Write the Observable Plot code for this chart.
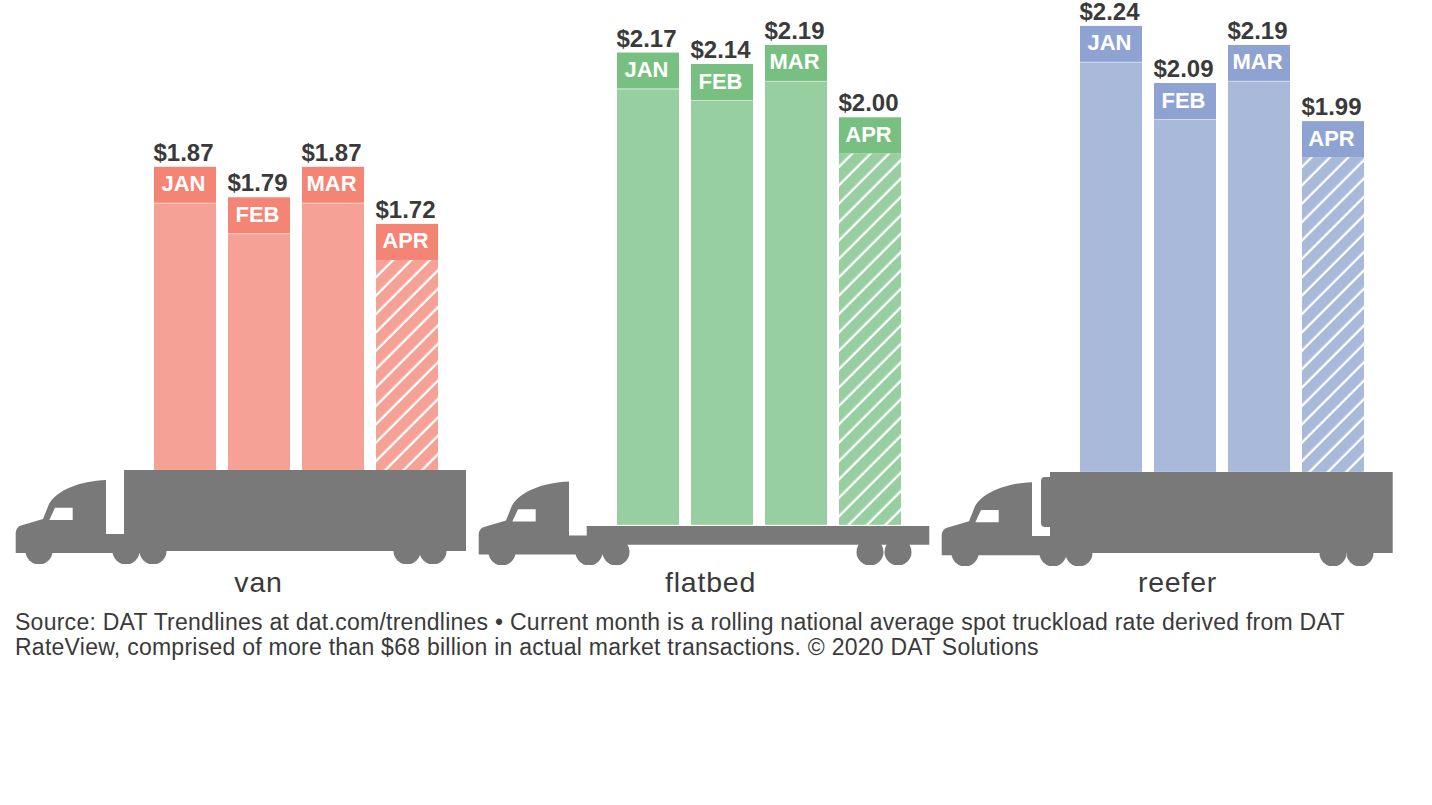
<!DOCTYPE html>
<html><head><meta charset="utf-8">
<script src="https://cdn.jsdelivr.net/npm/d3@7"></script>
<script src="https://cdn.jsdelivr.net/npm/@observablehq/plot@0.6"></script>
<style>
html,body{margin:0;background:#fff}
#cap{position:absolute;left:15px;top:610px;width:1400px;font:23px/25px "Liberation Sans",Arial,sans-serif;letter-spacing:.26px;color:#3a3a3a}
svg text{font-family:"Liberation Sans",Arial,sans-serif}
.catlabel text{letter-spacing:.8px}
</style></head><body>
<div id="chart"></div>
<div id="cap">Source: DAT Trendlines at dat.com/trendlines • Current month is a rolling national average spot truckload rate derived from DAT<br>RateView, comprised of more than $68 billion in actual market transactions. © 2020 DAT Solutions</div>
<script>
const months = ["JAN","FEB","MAR","APR"];
const types = ["van","flatbed","reefer"];
const vanRates = [1.87,1.79,1.87,1.72];
const flatbedRates = [2.17,2.14,2.19,2.00];
const reeferRates = [2.24,2.09,2.19,1.99];
const deckRates = [1.074,0.930,1.069];
const bodyColors = ["#f5a195","#98cfa1","#a9b9da"];
const bandColors = ["#f48474","#78c081","#8fa3d3"];
const labelShift = [-1,-12,-8];

const bandValue = 36/380.8;
const rateLists = [vanRates,flatbedRates,reeferRates];
const rows = types.flatMap((type,t)=>months.map((month,m)=>({
  type, month, rate:rateLists[t][m], deck:deckRates[t],
  body:bodyColors[t], band:bandColors[t], current:month==="APR"
})));

const ink = "#797979";
function cab(dx,dy){ return `M${15.7+dx},${553+dy}V${533+dy}Q${16+dx},${527+dy} ${21+dx},${525.5+dy}L${43+dx},${519+dy}L${49+dx},${504+dy}C${57+dx},${490+dy} ${80+dx},${481+dy} ${106+dx},${480+dy}V${534+dy}`; }
function windowPath(dx,dy){ return `M${55+dx},${507.7+dy}H${72.7+dx}V${520+dy}H${49.3+dx}Z`; }
const truckShapes = [
  {clip:564, wheels:[39,126,153,407,433], cy:551,
   d:`${cab(0,0)}H124V470H466V551H153V553H15.7Z${windowPath(0,0)}`},
  {clip:565, wheels:[502,589,616,870,898], cy:552,
   d:`${cab(463,1.5)}H586.7V526H929.3V544.7H616V554.5H478.7Z${windowPath(463,1.5)}`},
  {clip:566, wheels:[965,1053,1079,1333,1360], cy:553,
   d:`${cab(926,2.3)}V536H1050V527H1045Q1041,527 1041,523V481Q1041,477 1045,477H1050V472H1392.7V553H1079V555.3H941.7Z${windowPath(926,2.3)}`}
];

const plot = Plot.plot({
  width:1432, height:600,
  marginLeft:0, marginRight:43, marginTop:0, marginBottom:0,
  fx:{domain:types, padding:0, axis:null, range:[0,1389]},
  x:{type:"band", domain:months, range:[154,438], paddingInner:12/74, paddingOuter:0, axis:null},
  y:{domain:[0.7326,2.308], range:[600,0], axis:null},
  color:{type:"identity"},
  marks:[
    Plot.barY(rows,{fx:"type",x:"month",y1:"deck",y2:d=>d.rate-bandValue,fill:"body"}),
    Plot.barY(rows.filter(d=>d.current),{fx:"type",x:"month",y1:"deck",y2:d=>d.rate-bandValue,fill:"url(#hatch)"}),
    Plot.barY(rows,{fx:"type",x:"month",y1:d=>d.rate-bandValue,y2:"rate",fill:"band"}),
    Plot.tickY(rows.filter(d=>!d.current),{fx:"type",x:"month",y:d=>d.rate-bandValue,stroke:"#fff",strokeOpacity:0.45,strokeWidth:1}),
    Plot.text(rows,{fx:"type",x:"month",y:d=>d.rate-bandValue/2,text:"month",dx:-2,dy:-1,fill:"#fff",fontSize:22,fontWeight:"bold",lineAnchor:"middle"}),
    Plot.text(rows,{fx:"type",x:"month",y:"rate",dx:-2,dy:-6.5,text:d=>"$"+d.rate.toFixed(2),fill:"#3a3a3a",fontSize:24,fontWeight:"bold",lineAnchor:"bottom"}),
    ...types.map((t,i)=>Plot.text([t],{fx:d=>d,x:()=>"FEB",text:d=>d,frameAnchor:"bottom",dy:-9,dx:labelShift[i],fill:"#3a3a3a",fontSize:28.5,lineAnchor:"bottom",className:"catlabel"}))
  ]
});

const svg = d3.select(plot);
const defs = svg.insert("defs",":first-child");
const p = defs.append("pattern").attr("id","hatch").attr("patternUnits","userSpaceOnUse")
  .attr("width",13).attr("height",13).attr("patternTransform","rotate(45)");
p.append("rect").attr("x",5.7).attr("y",0).attr("width",2.3).attr("height",13).attr("fill","#fff");
defs.append("filter").attr("id","soft").append("feGaussianBlur").attr("stdDeviation",0.45);

const trucks = svg.append("g").attr("filter","url(#soft)");
truckShapes.forEach((s,i)=>{
  defs.append("clipPath").attr("id","tc"+i).append("rect").attr("x",0).attr("y",0).attr("width",1432).attr("height",s.clip);
  const t = trucks.append("g").attr("clip-path",`url(#tc${i})`).attr("fill",ink);
  t.append("path").attr("d",s.d).attr("fill-rule","evenodd");
  s.wheels.forEach(c=>t.append("circle").attr("cx",c).attr("cy",s.cy).attr("r",13.5));
});
document.getElementById("chart").append(plot);
</script>
</body></html>
